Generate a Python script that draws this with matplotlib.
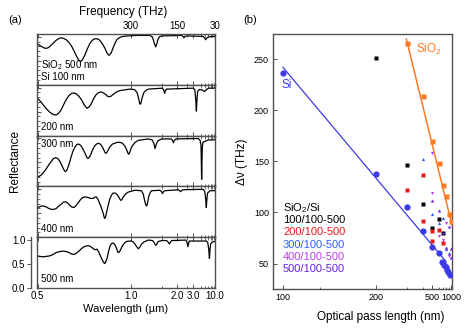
import numpy as np
import matplotlib
matplotlib.use("Agg")
import matplotlib.pyplot as plt
from matplotlib.ticker import FixedLocator, FixedFormatter, NullFormatter

plt.rcParams['font.family'] = ['Liberation Sans', 'DejaVu Sans']
plt.rcParams['mathtext.fontset'] = 'custom'
plt.rcParams['mathtext.rm'] = 'Liberation Sans'
plt.rcParams['mathtext.it'] = 'Liberation Sans:italic'

C_UM_THZ = 300.0  # lambda(um) * f(THz)

# --- (a) reflectance spectra: frequency (THz) vs reflectance ---
f_si100 = [602, 595, 588, 580, 572, 564, 556, 548, 540, 531, 524, 517, 508, 500, 491, 483, 475, 468,
           462, 456, 448, 440, 432, 424, 416, 408, 400, 392, 384, 377, 372, 368, 363, 357, 350, 344,
           335, 325, 310, 282, 239, 231, 228, 224, 220, 216, 213, 208, 201, 137, 132, 129, 126, 120,
           67, 62, 59, 56, 50, 29]
r_si100 = [0.86, 0.83, 0.80, 0.77, 0.76, 0.78, 0.83, 0.88, 0.93, 0.97, 0.98, 0.97, 0.94, 0.89, 0.81, 0.71, 0.60, 0.52,
           0.48, 0.52, 0.62, 0.75, 0.86, 0.93, 0.96, 0.96, 0.93, 0.86, 0.77, 0.67, 0.62, 0.62, 0.67, 0.77, 0.88, 0.95,
           0.99, 1.01, 1.02, 1.03, 1.03, 1.0, 0.95, 0.86, 0.79, 0.86, 0.94, 1.0, 1.02, 1.03, 1.01, 0.98, 1.01, 1.02,
           1.01, 0.97, 0.94, 0.97, 1.0, 1.01]

f_si200 = [602, 593, 583, 572, 561, 550, 540, 532, 524, 516, 508, 500, 491, 483, 475, 467, 459, 450,
           441, 434, 427, 419, 411, 403, 395, 388, 381, 375, 370, 364, 357, 346, 335, 303, 288, 280,
           275, 271, 268, 264, 258, 250, 244, 198, 194, 191, 188, 185, 99, 94, 91, 89, 87, 85,
           80, 70, 63, 58, 50, 29]
r_si200 = [0.79, 0.73, 0.65, 0.56, 0.49, 0.44, 0.43, 0.47, 0.54, 0.65, 0.75, 0.83, 0.88, 0.89, 0.87, 0.82, 0.75, 0.64,
           0.57, 0.60, 0.67, 0.78, 0.86, 0.90, 0.91, 0.89, 0.86, 0.82, 0.81, 0.82, 0.86, 0.91, 0.94, 0.97, 0.96, 0.90,
           0.78, 0.66, 0.66, 0.78, 0.90, 0.95, 0.97, 0.99, 0.95, 0.88, 0.95, 0.97, 0.99, 0.96, 0.75, 0.51, 0.75, 0.92,
           0.96, 0.95, 0.92, 0.95, 0.99, 0.99]

f_si300 = [602, 595, 588, 580, 572, 564, 556, 549, 542, 535, 529, 523, 518, 513, 510, 505, 499, 492,
           486, 479, 473, 467, 462, 455, 448, 442, 438, 433, 428, 424, 417, 411, 405, 400, 394, 389,
           384, 381, 377, 372, 368, 360, 352, 343, 335, 327, 319, 313, 309, 307, 304, 300, 295, 286,
           276, 244, 231, 226, 222, 218, 213, 201, 169, 165, 163, 160, 155, 83, 77, 74, 72, 70,
           68, 61, 50, 29]
r_si300 = [0.20, 0.21, 0.24, 0.30, 0.37, 0.45, 0.52, 0.58, 0.60, 0.58, 0.53, 0.45, 0.38, 0.32, 0.31, 0.35, 0.46, 0.62,
           0.74, 0.83, 0.88, 0.88, 0.86, 0.79, 0.70, 0.61, 0.58, 0.61, 0.68, 0.75, 0.84, 0.88, 0.90, 0.89, 0.85, 0.79,
           0.72, 0.69, 0.71, 0.77, 0.82, 0.88, 0.90, 0.92, 0.92, 0.90, 0.84, 0.76, 0.69, 0.67, 0.70, 0.78, 0.85, 0.92,
           0.96, 0.99, 0.97, 0.90, 0.79, 0.88, 0.95, 0.99, 0.99, 0.95, 0.91, 0.96, 0.99, 1.0, 0.96, 0.85, 0.15, 0.80,
           0.92, 0.94, 0.97, 0.97]

f_si400 = [602, 595, 588, 580, 572, 564, 556, 548, 540, 532, 524, 517, 510, 503, 497, 490, 483, 475,
           467, 460, 454, 446, 438, 430, 421, 415, 411, 405, 398, 393, 389, 386, 384, 381, 378, 373,
           368, 362, 357, 350, 344, 338, 333, 329, 325, 317, 309, 287, 266, 260, 256, 252, 249, 246,
           242, 236, 233, 206, 201, 198, 195, 191, 147, 143, 140, 137, 133, 67, 62, 59, 57, 55,
           53, 45, 29]
r_si400 = [0.60, 0.63, 0.65, 0.65, 0.63, 0.60, 0.58, 0.58, 0.60, 0.65, 0.69, 0.73, 0.74, 0.71, 0.67, 0.63, 0.62, 0.67,
           0.74, 0.80, 0.83, 0.84, 0.83, 0.81, 0.81, 0.84, 0.84, 0.78, 0.67, 0.58, 0.50, 0.42, 0.39, 0.43, 0.52, 0.66,
           0.79, 0.88, 0.92, 0.92, 0.89, 0.83, 0.77, 0.78, 0.83, 0.90, 0.94, 0.98, 0.97, 0.90, 0.78, 0.68, 0.65, 0.72,
           0.86, 0.95, 0.97, 0.98, 0.95, 0.91, 0.95, 0.97, 0.99, 0.97, 0.95, 0.97, 0.99, 1.0, 0.95, 0.80, 0.62, 0.80,
           0.92, 0.97, 0.97]

f_si500 = [602, 593, 583, 572, 561, 550, 540, 529, 518, 508, 499, 491, 484, 476, 467, 459, 451, 442,
           434, 426, 419, 414, 409, 404, 398, 393, 389, 386, 384, 381, 376, 371, 366, 361, 357, 352,
           348, 344, 341, 337, 333, 327, 320, 314, 305, 298, 292, 287, 281, 276, 271, 266, 258, 244,
           230, 226, 222, 219, 216, 212, 200, 185, 180, 176, 172, 169, 123, 119, 116, 114, 112, 56,
           52, 49, 47, 45, 43, 38, 29]
r_si500 = [0.67, 0.66, 0.65, 0.66, 0.67, 0.70, 0.74, 0.76, 0.77, 0.76, 0.74, 0.71, 0.70, 0.72, 0.77, 0.82, 0.86, 0.88,
           0.88, 0.85, 0.81, 0.80, 0.81, 0.76, 0.67, 0.60, 0.55, 0.52, 0.51, 0.54, 0.63, 0.78, 0.89, 0.93, 0.94, 0.91,
           0.86, 0.79, 0.74, 0.75, 0.80, 0.88, 0.94, 0.97, 0.98, 0.98, 0.96, 0.92, 0.86, 0.82, 0.85, 0.91, 0.96, 1.0,
           0.99, 0.96, 0.91, 0.89, 0.92, 0.97, 0.99, 0.99, 0.96, 0.92, 0.96, 0.99, 1.0, 0.95, 0.86, 0.93, 0.98, 0.98,
           0.94, 0.80, 0.62, 0.80, 0.92, 0.96, 0.97]

spectra = [(f_si100, r_si100), (f_si200, r_si200), (f_si300, r_si300),
           (f_si400, r_si400), (f_si500, r_si500)]

wl_major = [0.5, 1.0, 2.0, 3.0, 10.0]
wl_major_lbl = ["0.5", "1.0", "2.0", "3.0", "10.0"]
wl_minor = [1.5, 2.5, 4, 5, 6, 7, 8, 9]
freq_top = [300, 150, 30]

# --- (b) FSR vs optical pass length ---
si_L = [100, 200, 300, 400, 500, 600, 670, 730, 780, 810, 870, 950]
si_nu = [237, 138, 105, 82, 66, 60, 51, 49, 47, 44, 42, 39]
si_fit_L = [100, 800]
si_fit_nu = [242.5, 51.5]

sio2_L = [300, 400, 500, 600, 700, 800, 900, 1000]
sio2_nu = [266, 214, 170, 149, 127, 116, 99, 92]
sio2_fit_L = [295, 1050]
sio2_fit_nu = [270, 88]

s100_L = [200, 300, 400, 500, 600, 700]
s100_nu = [251, 147, 108, 85, 94, 80]
s200_L = [300, 400, 400, 500, 500, 600, 700]
s200_nu = [122, 137, 92, 72, 82, 83, 70]
s300_L = [400, 500, 600, 700, 800, 900]
s300_nu = [152, 99, 90, 95, 64, 60]
s400_L = [500, 500, 600, 700, 800, 900]
s400_nu = [158, 119, 77, 73, 90, 57]
s500_L = [500, 600, 700, 800, 900, 1000, 1000]
s500_nu = [111, 101, 80, 65, 86, 64, 55]

series = [
    ("100/100-500", s100_L, s100_nu, "#000000", "s"),
    ("200/100-500", s200_L, s200_nu, "#e8191c", "s"),
    ("300/100-500", s300_L, s300_nu, "#2f5cff", "^"),
    ("400/100-500", s400_L, s400_nu, "#bf3cf0", "v"),
    ("500/100-500", s500_L, s500_nu, "#6a22d8", "*"),
]

SPINE = "#505050"
SI_C = "#3d3be6"
SIO2_C = "#ff7a22"

fig = plt.figure(figsize=(4.74, 3.32), dpi=100)

# ---------------- (a) ----------------
a_left, a_w = 37 / 474, 178 / 474
a_bot, a_top = 1 - 288 / 332, 1 - 34 / 332
h = (a_top - a_bot) / 5
labels_a = [("SiO$_2$ 500 nm", 0.38), ("200 nm", 0.16), ("300 nm", 0.83),
            ("400 nm", 0.16), ("500 nm", 0.17)]
axes_a = []
for i, (fr, rr) in enumerate(spectra):
    ax = fig.add_axes([a_left, a_top - (i + 1) * h, a_w, h])
    ax.plot(fr, rr, color="black", lw=0.9, solid_joinstyle="round")
    ax.set_xlim(602, 29)
    ax.set_ylim(0, 1.06)
    ax.xaxis.set_major_locator(FixedLocator([C_UM_THZ / w for w in wl_major]))
    ax.xaxis.set_minor_locator(FixedLocator([C_UM_THZ / w for w in wl_minor]))
    ax.yaxis.set_major_locator(FixedLocator([0, 0.5, 1.0]))
    ax.yaxis.set_minor_locator(FixedLocator(np.arange(0.1, 1.05, 0.1)))
    ax.tick_params(axis="both", which="both", direction="in", top=True, color=SPINE,
                   labelbottom=False, labelleft=False)
    ax.tick_params(which="major", length=3, width=0.7)
    ax.tick_params(which="minor", length=1.8, width=0.6)
    for s in ax.spines.values():
        s.set_color(SPINE)
        s.set_linewidth(1.0)
    txt, ty = labels_a[i]
    ax.text(0.02, ty, txt, transform=ax.transAxes, fontsize=7, va="center", ha="left")
    axes_a.append(ax)

axes_a[0].text(0.02, 0.15, "Si 100 nm", transform=axes_a[0].transAxes, fontsize=7,
               va="center", ha="left")

# top frequency labels
top = axes_a[0].secondary_xaxis("top")
top.set_xticks(freq_top)
top.set_xticklabels([str(v) for v in freq_top])
top.tick_params(length=0, labelsize=7, pad=2)
top.spines["top"].set_visible(False)

# bottom wavelength labels and offset y axis on the last panel
axb = axes_a[-1]
axb.tick_params(labelbottom=True, labelsize=7, pad=2)
axb.set_xticklabels(wl_major_lbl)
axb.xaxis.set_minor_formatter(NullFormatter())
axb.set_xlabel("Wavelength (µm)", fontsize=8, labelpad=2)
axb.spines["left"].set_position(("outward", 4))
axb.plot([0, 0], [0, 1], transform=axb.transAxes, color=SPINE, lw=1.0, clip_on=False)
axb.yaxis.set_minor_locator(FixedLocator([]))
axb.tick_params(axis="y", which="major", direction="out", labelleft=True, labelsize=7,
                length=3, pad=1.5)

fig.text(15 / 474, (a_top + a_bot) / 2, "Reflectance", rotation=90, fontsize=8.5,
         ha="center", va="center")
fig.text(123 / 474, 1 - 12 / 332, "Frequency (THz)", fontsize=8.5, ha="center", va="center")
fig.text(15 / 474, 1 - 20 / 332, "(a)", fontsize=8, ha="center", va="center")

# ---------------- (b) ----------------
ax2 = fig.add_axes([273 / 474, 1 - 289 / 332, 179 / 474, 255 / 332])
ax2.set_xscale("function", functions=(lambda v: -1.0 / np.asarray(v, dtype=float),
                                      lambda v: -1.0 / np.asarray(v, dtype=float)))
ax2.set_xlim(95, 1055)
ax2.set_ylim(25, 275)

ax2.plot(si_fit_L, si_fit_nu, color=SI_C, lw=0.9, zorder=2)
ax2.plot(sio2_fit_L, sio2_fit_nu, color=SIO2_C, lw=1.1, zorder=2)
ax2.plot(si_L, si_nu, "o", color=SI_C, ms=4.5, mec="none", zorder=3)
ax2.plot(sio2_L, sio2_nu, "s", color=SIO2_C, ms=3.6, mec="none", zorder=4)
for name, xs, ys, col, mk in series:
    ax2.plot(xs, ys, mk, color=col, ms=2.3 if mk != "*" else 3.2, mec="none", zorder=5)

ax2.xaxis.set_major_locator(FixedLocator([100, 200, 500, 1000]))
ax2.xaxis.set_minor_locator(FixedLocator([125, 300, 400, 600, 700, 800, 900]))
ax2.xaxis.set_major_formatter(FixedFormatter(["100", "200", "500", "1000"]))
ax2.xaxis.set_minor_formatter(NullFormatter())
ax2.yaxis.set_major_locator(FixedLocator([50, 100, 150, 200, 250]))
ax2.tick_params(axis="both", which="both", direction="in", color=SPINE, labelsize=6.5, pad=3)
ax2.tick_params(which="major", length=3, width=0.7)
ax2.tick_params(which="minor", length=1.8, width=0.6)
for s in ax2.spines.values():
    s.set_color(SPINE)
    s.set_linewidth(1.0)

ax2.set_xlabel("Optical pass length (nm)", fontsize=8.5, labelpad=3)
ax2.xaxis.set_label_coords(0.60, -0.085)
ax2.set_ylabel("Δν (THz)", fontsize=8.5, labelpad=3)
ax2.yaxis.set_label_coords(-0.14, 0.5)

ax2.text(0.045, 0.80, "Si", transform=ax2.transAxes, color=SI_C, fontsize=8.5, va="center")
ax2.text(0.80, 0.94, "SiO$_2$", transform=ax2.transAxes, color=SIO2_C, fontsize=8.5, va="center")

ly = 0.318
ax2.text(0.056, ly, "SiO$_2$/Si", transform=ax2.transAxes, fontsize=8, va="center")
for k, (name, xs, ys, col, mk) in enumerate(series):
    ax2.text(0.056, ly - 0.048 * (k + 1), name, transform=ax2.transAxes, color=col,
             fontsize=8, va="center")

fig.text(250 / 474, 1 - 20 / 332, "(b)", fontsize=8, ha="center", va="center")

fig.savefig("out.png", dpi=100)
